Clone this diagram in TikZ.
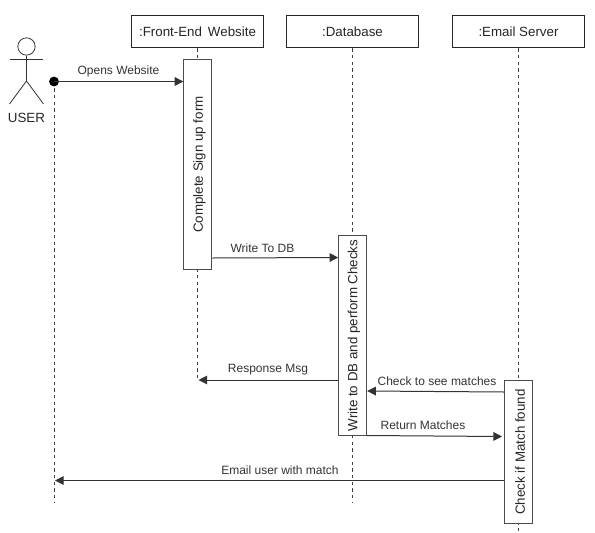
\documentclass[tikz,border=0pt]{standalone}
\usepackage{fontspec}
\setmainfont{Liberation Sans}
\usetikzlibrary{arrows.meta}
\tikzset{
  px/.style={x=0.75pt,y=-0.75pt},
  obj/.style={draw=black!85,line width=0.75pt,fill=white,minimum width=99.5pt,minimum height=24.5pt,inner sep=0pt,font=\fontsize{10}{12}\selectfont,text=black!85},
  act/.style={draw=black!70,line width=0.7pt,fill=white,inner sep=0pt},
  vtext/.style={rotate=90,font=\fontsize{10}{12}\selectfont,text=black!85,inner sep=0pt},
  life/.style={draw=black!75,line width=0.6pt,dash pattern=on 2.6pt off 2.4pt},
  msg/.style={draw=black!80,line width=0.75pt,-{Triangle[length=6.5pt,width=6.5pt]}},
  lbl/.style={font=\fontsize{9}{11}\selectfont,text=black!80,inner sep=0pt},
  stick/.style={draw=black!80,line width=0.6pt}
}
\begin{document}
\begin{tikzpicture}[px]
\useasboundingbox (0,0) rectangle (595,532);
% object boxes
\node[obj] (fe) at (197.5,31.5) {:Front-End\, Website};
\node[obj] (db) at (352.5,31.5) {:Database};
\node[obj] (em) at (518.5,31.5) {:Email Server};
% free ends
\coordinate (feend) at (197.5,379);
\coordinate (dbend) at (352.5,502);
\coordinate (emend) at (518.5,531);
\coordinate (usertop) at (54,81.5);
\coordinate (userend) at (54,502);
\coordinate (fereply) at (198.5,380);
\coordinate (usermail) at (55,480.5);
% lifelines
\draw[life] (fe.south) -- (feend);
\draw[life] (db.south) -- (dbend);
\draw[life] (em.south) -- (emend);
\draw[life] (usertop) -- (userend);
% activations
\node[act,minimum width=21pt,minimum height=157pt] (a1) at (197.8,164.3) {};
\node[vtext] (a1t) at (199.5,164.5) {Complete Sign up form};
\node[act,minimum width=21pt,minimum height=149.5pt] (a2) at (352.7,335.5) {};
\node[vtext] (a2t) at (354,335.5) {Write to DB and perform Checks};
\node[act,minimum width=21pt,minimum height=107.5pt] (a3) at (518.7,451.7) {};
\node[vtext] (a3t) at (520,452) {Check if Match found};
% actor
\node[circle,stick,minimum size=13pt,inner sep=0pt] (head) at (26.5,46.5) {};
\coordinate (hip) at (26.5,81);
\coordinate (arml) at (10,59.5);
\coordinate (armr) at (43,59.5);
\coordinate (legl) at (9.5,104);
\coordinate (legr) at (43.5,104);
\draw[stick] (head.south) -- (hip);
\draw[stick] (arml) -- (armr);
\draw[stick] (legl) -- (hip) -- (legr);
\node[font=\fontsize{10}{12}\selectfont,text=black!85,inner sep=0pt] (user) at (26.5,118) {USER};
% messages
\fill[black] (usertop) circle (3.7pt);
\draw[msg] (usertop) -- (usertop -| a1.west);
\node[lbl] (l1) at (118.5,71.5) {Opens Website};
\draw[msg] (a1.east |- 0,258) -- (a2.west |- 0,257.5);
\node[lbl] (l2) at (262.5,248) {Write To DB};
\draw[msg] (a2.west |- 0,380) -- (fereply);
\node[lbl] (l3) at (268,370) {Response Msg};
\draw[msg] (a3.west |- 0,392) -- (a2.east |- 0,391);
\node[lbl] (l4) at (437,381) {Check to see matches};
\draw[msg] (a2.east |- 0,435.5) -- (502,436.5);
\node[lbl] (l5) at (423,425) {Return Matches};
\draw[msg] (a3.west |- 0,480.5) -- (usermail);
\node[lbl] (l6) at (280,470.5) {Email user with match};
\end{tikzpicture}
\end{document}
